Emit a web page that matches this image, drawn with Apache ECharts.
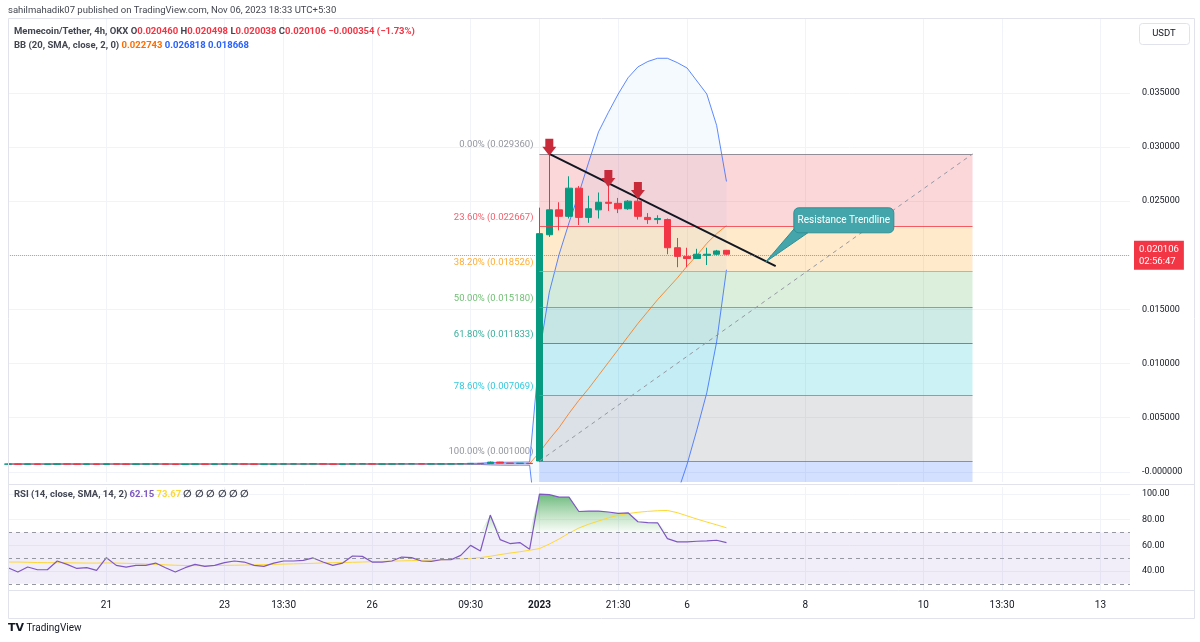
<!DOCTYPE html>
<html>
<head>
<meta charset="utf-8">
<script src="https://cdn.jsdelivr.net/npm/echarts@6/dist/echarts.min.js"></script>
<style>
  html, body { margin: 0; padding: 0; background: #fff; }
  #chart { width: 1200px; height: 642px; }
</style>
</head>
<body>
<div id="chart"></div>
<script>
// Memecoin/Tether 4h (OKX), candles 0..73, the rest of the time axis is empty space
const slotCount = 115
const xLabelIdx = [10, 22, 28, 37, 47, 54, 62, 69, 81, 93, 101, 111]
const xLabelText = ['21', '23', '13:30', '26', '09:30', '2023', '21:30', '6', '8', '10', '13:30', '13']

const opens = [
  0.00071, 0.00072, 0.00071, 0.00072, 0.00070, 0.00071, 0.00073, 0.00072, 0.00071, 0.00072,
  0.00070, 0.00073, 0.00072, 0.00071, 0.00072, 0.00072, 0.00073, 0.00071, 0.00069, 0.00071,
  0.00072, 0.00071, 0.00072, 0.00073, 0.00073, 0.00072, 0.00071, 0.00071, 0.00072, 0.00073,
  0.00073, 0.00073, 0.00074, 0.00072, 0.00071, 0.00072, 0.00074, 0.00074, 0.00072, 0.00072,
  0.00073, 0.00074, 0.00074, 0.00073, 0.00073, 0.00073, 0.00073, 0.00075, 0.00078, 0.00076,
  0.00090, 0.00080, 0.00078, 0.00079,
  0.00100, 0.02190, 0.02420, 0.02360, 0.02620, 0.02350, 0.02420, 0.02490, 0.02480, 0.02430,
  0.02500, 0.02350, 0.02330, 0.02330, 0.02070, 0.01990, 0.01970, 0.02000, 0.02010, 0.020460
]
const closes = [
  0.00072, 0.00071, 0.00072, 0.00070, 0.00071, 0.00073, 0.00072, 0.00071, 0.00072, 0.00070,
  0.00073, 0.00072, 0.00071, 0.00072, 0.00072, 0.00073, 0.00071, 0.00069, 0.00071, 0.00072,
  0.00071, 0.00072, 0.00073, 0.00073, 0.00072, 0.00071, 0.00071, 0.00072, 0.00073, 0.00073,
  0.00073, 0.00074, 0.00072, 0.00071, 0.00072, 0.00074, 0.00074, 0.00072, 0.00072, 0.00073,
  0.00074, 0.00074, 0.00073, 0.00073, 0.00073, 0.00073, 0.00075, 0.00078, 0.00076, 0.00090,
  0.00080, 0.00078, 0.00079, 0.00076,
  0.02200, 0.02420, 0.02360, 0.02620, 0.02350, 0.02430, 0.02490, 0.02480, 0.02430, 0.02500,
  0.02360, 0.02330, 0.02340, 0.02070, 0.01990, 0.01970, 0.02010, 0.02010, 0.02040, 0.020106
]
const lows = [
  0.00069, 0.00069, 0.00069, 0.00068, 0.00068, 0.00069, 0.00070, 0.00069, 0.00069, 0.00068,
  0.00068, 0.00070, 0.00069, 0.00069, 0.00070, 0.00070, 0.00069, 0.00067, 0.00067, 0.00069,
  0.00069, 0.00069, 0.00070, 0.00071, 0.00070, 0.00069, 0.00069, 0.00069, 0.00070, 0.00071,
  0.00071, 0.00071, 0.00070, 0.00069, 0.00069, 0.00070, 0.00072, 0.00070, 0.00070, 0.00070,
  0.00071, 0.00072, 0.00071, 0.00071, 0.00071, 0.00071, 0.00071, 0.00073, 0.00074, 0.00074,
  0.00078, 0.00076, 0.00076, 0.00074,
  0.00090, 0.02170, 0.02230, 0.02340, 0.02280, 0.02300, 0.02340, 0.02410, 0.02390, 0.02420,
  0.02330, 0.02290, 0.02290, 0.02010, 0.01890, 0.01890, 0.01970, 0.01910, 0.02000, 0.020038
]
const highs = [
  0.00074, 0.00074, 0.00074, 0.00074, 0.00073, 0.00075, 0.00075, 0.00074, 0.00074, 0.00074,
  0.00075, 0.00075, 0.00074, 0.00074, 0.00074, 0.00075, 0.00075, 0.00073, 0.00073, 0.00074,
  0.00074, 0.00074, 0.00075, 0.00075, 0.00075, 0.00074, 0.00073, 0.00074, 0.00075, 0.00075,
  0.00075, 0.00076, 0.00076, 0.00074, 0.00074, 0.00076, 0.00076, 0.00076, 0.00074, 0.00075,
  0.00076, 0.00076, 0.00076, 0.00075, 0.00075, 0.00075, 0.00077, 0.00080, 0.00081, 0.00095,
  0.00092, 0.00082, 0.00081, 0.00081,
  0.02440, 0.02936, 0.02490, 0.02730, 0.02640, 0.02550, 0.02580, 0.02650, 0.02530, 0.02510,
  0.02560, 0.02390, 0.02370, 0.02340, 0.02160, 0.02070, 0.02060, 0.02070, 0.02050, 0.020498
]

// Bollinger Bands (20, 2)
const bbUpper = [
  0.00075, 0.00075, 0.00075, 0.00075, 0.00075, 0.00075, 0.00075, 0.00075, 0.00075, 0.00075,
  0.00075, 0.00075, 0.00075, 0.00075, 0.00075, 0.00075, 0.00075, 0.00075, 0.00075, 0.00075,
  0.00074, 0.00074, 0.00074, 0.00074, 0.00074, 0.00074, 0.00074, 0.00074, 0.00074, 0.00074,
  0.00075, 0.00075, 0.00075, 0.00075, 0.00075, 0.00075, 0.00075, 0.00075, 0.00075, 0.00075,
  0.00075, 0.00075, 0.00075, 0.00075, 0.00075, 0.00075, 0.00076, 0.00078, 0.00079, 0.00086,
  0.00088, 0.00089, 0.00090, 0.00091,
  0.0110, 0.0166, 0.0201, 0.0230, 0.0257, 0.0286, 0.0314, 0.0332, 0.0349, 0.0364,
  0.0374, 0.0379, 0.0382, 0.0382, 0.0378, 0.0373, 0.0361, 0.0349, 0.0320, 0.026818
]
const bbMid = [
  0.00072, 0.00072, 0.00072, 0.00072, 0.00072, 0.00072, 0.00072, 0.00072, 0.00072, 0.00072,
  0.00072, 0.00072, 0.00072, 0.00072, 0.00072, 0.00072, 0.00072, 0.00072, 0.00072, 0.00072,
  0.00072, 0.00072, 0.00072, 0.00072, 0.00072, 0.00072, 0.00072, 0.00072, 0.00072, 0.00072,
  0.00072, 0.00072, 0.00072, 0.00072, 0.00072, 0.00072, 0.00072, 0.00072, 0.00072, 0.00072,
  0.00073, 0.00073, 0.00073, 0.00073, 0.00073, 0.00073, 0.00073, 0.00073, 0.00074, 0.00075,
  0.00075, 0.00075, 0.00076, 0.00076,
  0.0018, 0.0030, 0.0041, 0.0054, 0.0066, 0.0077, 0.0089, 0.0101, 0.0113, 0.0125,
  0.0137, 0.0148, 0.0159, 0.0169, 0.0179, 0.0190, 0.0200, 0.0211, 0.0220, 0.022743
]
const bbLower = [
  0.00069, 0.00069, 0.00069, 0.00069, 0.00069, 0.00069, 0.00069, 0.00069, 0.00069, 0.00069,
  0.00069, 0.00069, 0.00069, 0.00069, 0.00069, 0.00069, 0.00069, 0.00069, 0.00069, 0.00069,
  0.00070, 0.00070, 0.00070, 0.00070, 0.00070, 0.00070, 0.00070, 0.00070, 0.00070, 0.00070,
  0.00069, 0.00069, 0.00069, 0.00069, 0.00069, 0.00069, 0.00069, 0.00069, 0.00069, 0.00069,
  0.00070, 0.00070, 0.00070, 0.00070, 0.00070, 0.00070, 0.00070, 0.00068, 0.00068, 0.00064,
  0.00062, 0.00061, 0.00062, 0.00061,
  -0.0074, -0.0106, -0.0119, -0.0122, -0.0125, -0.0132, -0.0136, -0.0130, -0.0123, -0.0114,
  -0.0100, -0.0083, -0.0064, -0.0044, -0.0020, 0.0007, 0.0039, 0.0073, 0.0120, 0.018668
]

// RSI (14) and its SMA (14)
const rsi = [
  42.6, 39.2, 43.1, 41.0, 41.0, 47.8, 45.2, 42.0, 42.6, 40.5,
  50.4, 44.4, 43.1, 44.4, 44.4, 46.2, 42.6, 39.2, 42.6, 45.2,
  43.6, 44.4, 46.5, 47.8, 47.0, 44.4, 43.6, 46.2, 47.8, 47.8,
  48.3, 50.2, 47.0, 44.4, 46.2, 51.7, 51.4, 47.0, 47.0, 47.8,
  50.9, 50.4, 47.8, 47.5, 48.8, 48.8, 52.2, 60.0, 55.6, 83.6,
  64.5, 61.4, 62.2, 57.0,
  100.0, 99.5, 97.6, 97.6, 86.4, 86.7, 86.7, 86.0, 84.9, 85.4,
  78.4, 77.8, 77.6, 65.3, 62.7, 62.7, 63.2, 63.5, 64.0, 62.15
]
const rsiMa = [
  47.0, 47.0, 46.8, 46.6, 46.5, 46.5, 46.4, 46.3, 46.2, 46.2,
  46.3, 46.2, 46.0, 45.8, 45.5, 45.2, 44.8, 44.5, 44.3, 44.2,
  44.2, 44.3, 44.4, 44.5, 44.6, 44.8, 45.0, 45.2, 45.4, 45.6,
  45.8, 46.0, 46.3, 46.5, 46.6, 46.8, 47.0, 47.3, 47.5, 47.7,
  47.9, 48.1, 48.3, 48.5, 48.7, 49.0, 49.3, 49.7, 50.5, 51.5,
  52.8, 54.0, 55.0, 56.2,
  57.5, 61.0, 65.0, 69.5, 73.5, 76.5, 79.0, 81.5, 83.5, 84.8,
  85.8, 86.5, 87.0, 87.2, 85.5, 83.0, 80.5, 78.2, 76.0, 73.67
]

// Fibonacci retracement drawn from the pump candle
const fibLevels = [0.029360, 0.022667, 0.018526, 0.015180, 0.011833, 0.007069, 0.001000]
const fibRatios = ['0.00%', '23.60%', '38.20%', '50.00%', '61.80%', '78.60%', '100.00%']
const fibColors = ['#787b86', '#f23645', '#ff9800', '#4caf50', '#089981', '#00bcd4', '#787b86']
const fibZoneColors = ['rgba(242,54,69,0.2)', 'rgba(255,152,0,0.2)', 'rgba(76,175,80,0.2)',
  'rgba(8,153,129,0.2)', 'rgba(0,188,212,0.2)', 'rgba(120,123,134,0.2)', 'rgba(41,98,255,0.2)']
const fibStart = 54
const fibEnd = 98

// resistance trendline and sell arrows
const trendFrom = [55, 0.02936]
const trendTo = [78, 0.0190]
const arrowIdx = [55, 61, 64]
const arrowTip = [0.0292, 0.0263, 0.0252]
const calloutAt = [77, 0.0194]

const lastPrice = 0.020106
const priceTicks = [0, 0.005, 0.010, 0.015, 0.020, 0.025, 0.030, 0.035]
const priceTickLabels = ['-0.000000', '0.005000', '0.010000', '0.015000', '', '0.025000', '0.030000', '0.035000']
const rsiTicks = [40, 60, 80, 100]
const rsiTickLabels = ['40.00', '60.00', '80.00', '100.00']

const FONT = 'Roboto, "Noto Sans", sans-serif'
const yMin = -0.00094
const yMax = 0.04192

const chart = echarts.init(document.getElementById('chart'))

const cats = []
for (let i = 0; i < slotCount; i++) cats.push(String(i))
const labelOf = {}
xLabelIdx.forEach((k, j) => { labelOf[k] = xLabelText[j] })
const isLabelSlot = (idx) => labelOf[idx] !== undefined

const priceLabel = (v) => {
  const k = priceTicks.findIndex(t => Math.abs(t - v) < 1e-9)
  return k >= 0 ? priceTickLabels[k] : ''
}

const candleData = opens.map((o, i) => [o, closes[i], lows[i], highs[i]])
const bbBand = bbUpper.map((u, i) => u - bbLower[i])
const rsiOver = rsi.map(v => Math.max(v, 70))

const fibAreas = fibLevels.slice(0, -1).map((lvl, k) => [
  { xAxis: fibStart, yAxis: lvl, itemStyle: { color: fibZoneColors[k] } },
  { xAxis: fibEnd, yAxis: fibLevels[k + 1] }
])
fibAreas.push([
  { xAxis: fibStart, yAxis: fibLevels[fibLevels.length - 1], itemStyle: { color: fibZoneColors[6] } },
  { xAxis: fibEnd, yAxis: yMin }
])
const fibLines = fibLevels.map((lvl, k) => [
  { coord: [fibStart, lvl], lineStyle: { color: fibColors[k], width: 1, type: 'solid', opacity: 0.8 } },
  { coord: [fibEnd, lvl] }
])
fibLines.push([
  { coord: [fibStart, fibLevels[6]], lineStyle: { color: '#9598a1', width: 1, type: [4, 4] } },
  { coord: [fibEnd, fibLevels[0]] }
])
fibLines.push([
  { coord: trendFrom, lineStyle: { color: '#131722', width: 2, type: 'solid' } },
  { coord: trendTo }
])

const xBase = {
  type: 'category', data: cats, boundaryGap: false,
  axisLine: { show: false }, axisTick: { show: false },
  splitLine: { show: true, interval: (idx) => isLabelSlot(idx), lineStyle: { color: '#f0f3fa' } }
}

const option = {
  animation: false,
  backgroundColor: '#fff',
  textStyle: { fontFamily: FONT },
  title: [
    {
      left: 8, top: 6, padding: 0,
      text: 'sahilmahadik07 published on TradingView.com, Nov 06, 2023 18:33 UTC+5:30',
      textStyle: { fontSize: 9.5, fontWeight: 'normal', color: '#434651', fontFamily: FONT }
    },
    {
      left: 14, top: 27, padding: 0,
      text: '{n|Memecoin/Tether, 4h, OKX} {k|O}{v|0.020460} {k|H}{v|0.020498} {k|L}{v|0.020038} {k|C}{v|0.020106} {v|\u22120.000354 (\u22121.73%)}',
      textStyle: {
        fontSize: 9.5, fontFamily: FONT,
        rich: {
          n: { color: '#434651', fontSize: 9.5, fontFamily: FONT },
          k: { color: '#434651', fontSize: 9.5, fontFamily: FONT },
          v: { color: '#f23645', fontSize: 9.5, fontFamily: FONT }
        }
      }
    },
    {
      left: 14, top: 41, padding: 0,
      text: '{n|BB (20, SMA, close, 2, 0)} {o|0.022743} {b|0.026818} {b|0.018668}',
      textStyle: {
        fontSize: 9.5, fontFamily: FONT,
        rich: {
          n: { color: '#434651', fontSize: 9.5, fontFamily: FONT },
          o: { color: '#ff6d00', fontSize: 9.5, fontFamily: FONT },
          b: { color: '#2962ff', fontSize: 9.5, fontFamily: FONT }
        }
      }
    },
    {
      left: 14, top: 490, padding: 0,
      text: '{n|RSI (14, close, SMA, 14, 2)} {p|62.15} {y|73.67} {g|\u2205 \u2205 \u2205 \u2205 \u2205 \u2205}',
      textStyle: {
        fontSize: 9.5, fontFamily: FONT,
        rich: {
          n: { color: '#434651', fontSize: 9.5, fontFamily: FONT },
          p: { color: '#7e57c2', fontSize: 9.5, fontFamily: FONT },
          y: { color: '#fdd835', fontSize: 9.5, fontFamily: FONT },
          g: { color: '#434651', fontSize: 9.5, fontFamily: FONT }
        }
      }
    }
  ],
  grid: [
    { left: 8, right: 70, top: 18, height: 464 },
    { left: 8, right: 70, top: 487, height: 103 }
  ],
  xAxis: [
    Object.assign({}, xBase, { gridIndex: 0, axisLabel: { show: false } }),
    Object.assign({}, xBase, {
      gridIndex: 1,
      axisLabel: {
        show: true, interval: (idx) => isLabelSlot(idx), margin: 10,
        color: '#131722', fontSize: 10, fontFamily: FONT,
        formatter: (val) => {
          const t = labelOf[Number(val)]
          if (t === undefined) return ''
          return t === '2023' ? '{b|2023}' : t
        },
        rich: { b: { fontWeight: 'bold', fontSize: 10, color: '#131722', fontFamily: FONT } }
      }
    })
  ],
  yAxis: [
    {
      type: 'value', gridIndex: 0, position: 'right', min: yMin, max: yMax,
      axisLine: { show: false },
      axisTick: { show: false, customValues: priceTicks },
      axisLabel: {
        customValues: priceTicks, margin: 12, color: '#131722', fontSize: 9, fontFamily: FONT,
        formatter: priceLabel
      },
      splitLine: { show: true, lineStyle: { color: '#f0f3fa' } }
    },
    {
      type: 'value', gridIndex: 1, position: 'right', min: 25.2, max: 105.5,
      axisLine: { show: false },
      axisTick: { show: false, customValues: rsiTicks },
      axisLabel: {
        customValues: rsiTicks, margin: 12, color: '#131722', fontSize: 9, fontFamily: FONT,
        formatter: (v) => rsiTickLabels[rsiTicks.indexOf(v)] || ''
      },
      splitLine: { show: true, lineStyle: { color: '#f0f3fa' } }
    }
  ],
  series: [
    {
      name: 'fib', type: 'line', xAxisIndex: 0, yAxisIndex: 0, data: [], z: 1,
      markArea: { silent: true, data: fibAreas },
      markLine: { silent: true, symbol: 'none', label: { show: false }, data: fibLines }
    },
    {
      name: 'bbLowerBase', type: 'line', xAxisIndex: 0, yAxisIndex: 0, data: bbLower,
      stack: 'bb', stackStrategy: 'all', symbol: 'none', lineStyle: { width: 0 }, z: 2
    },
    {
      name: 'bbFill', type: 'line', xAxisIndex: 0, yAxisIndex: 0, data: bbBand,
      stack: 'bb', stackStrategy: 'all', symbol: 'none', lineStyle: { width: 0 },
      areaStyle: { color: 'rgba(33,150,243,0.06)' }, z: 2
    },
    {
      name: 'bbUpper', type: 'line', xAxisIndex: 0, yAxisIndex: 0, data: bbUpper,
      symbol: 'none', lineStyle: { color: '#2962ff', width: 1, opacity: 0.75 }, z: 3
    },
    {
      name: 'bbLower', type: 'line', xAxisIndex: 0, yAxisIndex: 0, data: bbLower,
      symbol: 'none', lineStyle: { color: '#2962ff', width: 1, opacity: 0.75 }, z: 3
    },
    {
      name: 'bbMid', type: 'line', xAxisIndex: 0, yAxisIndex: 0, data: bbMid,
      symbol: 'none', lineStyle: { color: '#ff6d00', width: 1, opacity: 0.75 }, z: 3
    },
    {
      name: 'price', type: 'candlestick', xAxisIndex: 0, yAxisIndex: 0, data: candleData,
      barWidth: 7, z: 4,
      itemStyle: { color: '#089981', color0: '#f23645', borderColor: '#089981', borderColor0: '#f23645' },
      markLine: {
        silent: true, symbol: 'none',
        lineStyle: { color: 'rgba(242,54,69,0.55)', width: 1, type: 'dotted' },
        label: {
          show: true, position: 'end', distance: 4,
          formatter: lastPrice.toFixed(6) + '\n02:56:47',
          color: '#fff', backgroundColor: '#f23645', padding: [3, 5, 2, 5],
          fontSize: 9.5, lineHeight: 12, fontFamily: FONT
        },
        data: [{ yAxis: lastPrice }]
      }
    },
    {
      name: 'fibLabels', type: 'scatter', xAxisIndex: 0, yAxisIndex: 0, symbolSize: 0, z: 5,
      label: { show: true, position: 'left', distance: 6, offset: [0, -9], fontSize: 9.5, fontFamily: FONT },
      data: fibLevels.map((lvl, k) => ({
        value: [fibStart, lvl],
        label: { color: fibColors[k], formatter: fibRatios[k] + ' (' + lvl.toFixed(6) + ')' }
      }))
    },
    {
      name: 'arrows', type: 'scatter', xAxisIndex: 0, yAxisIndex: 0, z: 6,
      symbol: 'path://M3,0 L11,0 L11,8 L14,8 L7,17 L0,8 L3,8 Z',
      symbolSize: [14, 17], symbolOffset: [0, '-50%'],
      itemStyle: { color: '#c92a39', opacity: 1 },
      data: arrowIdx.map((k, j) => [k, arrowTip[j]])
    },
    {
      name: 'rsi', type: 'line', xAxisIndex: 1, yAxisIndex: 1, data: rsi,
      symbol: 'none', lineStyle: { color: '#7e57c2', width: 1.2 }, z: 4,
      markArea: {
        silent: true, itemStyle: { color: 'rgba(126,87,194,0.1)' },
        data: [[{ yAxis: 70 }, { yAxis: 30 }]]
      },
      markLine: {
        silent: true, symbol: 'none', label: { show: false },
        lineStyle: { color: '#9598a1', width: 1, type: [4, 4] },
        data: [{ yAxis: 70 }, { yAxis: 50 }, { yAxis: 30 }]
      }
    },
    {
      name: 'rsiOver', type: 'line', xAxisIndex: 1, yAxisIndex: 1, data: rsiOver,
      symbol: 'none', lineStyle: { width: 0 }, z: 2,
      areaStyle: {
        origin: 70,
        color: {
          type: 'linear', x: 0, y: 0, x2: 0, y2: 1,
          colorStops: [{ offset: 0, color: 'rgba(33,150,60,0.95)' }, { offset: 1, color: 'rgba(76,175,80,0.05)' }]
        }
      }
    },
    {
      name: 'rsiMa', type: 'line', xAxisIndex: 1, yAxisIndex: 1, data: rsiMa,
      symbol: 'none', lineStyle: { color: '#fdd835', width: 1 }, z: 3
    }
  ]
}

chart.setOption(option)

// frame, pane separator, USDT badge, logo and the trendline callout
const tip = chart.convertToPixel({ xAxisIndex: 0, yAxisIndex: 0 }, calloutAt)
const bx = tip[0] + 28
const by = tip[1] - 54
chart.setOption({
  graphic: [
    { type: 'rect', silent: true, shape: { x: 8.5, y: 18.5, width: 1186, height: 600 },
      style: { fill: 'none', stroke: '#e0e3eb', lineWidth: 1 }, z: 100 },
    { type: 'line', silent: true, shape: { x1: 8, y1: 484.5, x2: 1195, y2: 484.5 },
      style: { stroke: '#e0e3eb', lineWidth: 1 }, z: 100 },
    { type: 'line', silent: true, shape: { x1: 8, y1: 590.5, x2: 1195, y2: 590.5 },
      style: { stroke: '#e0e3eb', lineWidth: 1 }, z: 100 },
    { type: 'rect', silent: true, shape: { x: 1139.5, y: 23.5, width: 50, height: 21, r: 3 },
      style: { fill: '#fff', stroke: '#e0e3eb', lineWidth: 1 }, z: 100 },
    { type: 'text', silent: true, x: 1164, y: 34, z: 101,
      style: { text: 'USDT', fill: '#131722', font: '9.5px ' + FONT, align: 'center', verticalAlign: 'middle' } },
    { type: 'text', silent: true, x: 8, y: 628, z: 101,
      style: { text: '{l|TV} TradingView', fill: '#131722', font: '10px ' + FONT, verticalAlign: 'middle',
        rich: { l: { fontWeight: 'bold', fontSize: 11, fontFamily: 'DejaVu Sans', fill: '#131722' } } } },
    { type: 'polygon', silent: true, z: 110,
      shape: { points: [[tip[0], tip[1]], [bx + 2, by + 19], [bx + 14, by + 25]] },
      style: { fill: '#44a6ab', stroke: '#2f8f95', lineWidth: 1 } },
    { type: 'rect', silent: true, z: 111, shape: { x: bx, y: by, width: 100, height: 25, r: 5 },
      style: { fill: '#44a6ab', stroke: '#2f8f95', lineWidth: 1 } },
    { type: 'text', silent: true, z: 112, x: bx + 50, y: by + 12.5,
      style: { text: 'Resistance Trendline', fill: '#fff', font: '10px ' + FONT, align: 'center', verticalAlign: 'middle' } }
  ]
})
</script>
</body>
</html>
